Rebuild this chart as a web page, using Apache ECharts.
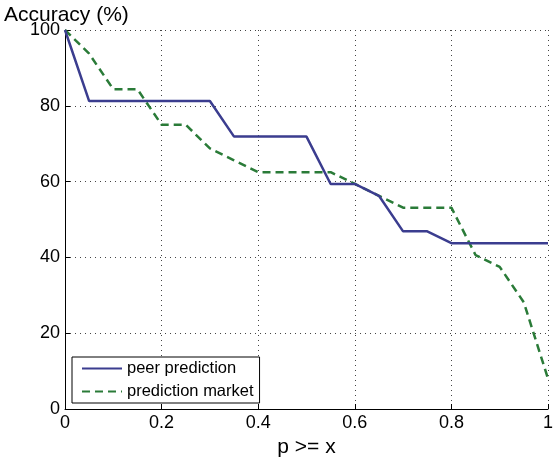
<!DOCTYPE html>
<html>
<head>
<meta charset="utf-8">
<script src="https://cdn.jsdelivr.net/npm/echarts@6/dist/echarts.min.js"></script>
<style>
html,body{margin:0;padding:0;background:#fff;}
#chart{width:555px;height:459px;}
</style>
</head>
<body>
<div id="chart"></div>
<script>
var xValues = [0,0.05,0.1,0.15,0.2,0.25,0.3,0.35,0.4,0.45,0.5,0.55,0.6,0.65,0.7,0.75,0.8,0.85,0.9,0.95,1];
var peerPrediction = [100,81.25,81.25,81.25,81.25,81.25,81.25,71.875,71.875,71.875,71.875,59.375,59.375,56.25,46.875,46.875,43.75,43.75,43.75,43.75,43.75];
var predictionMarket = [100,93.75,84.375,84.375,75,75,68.75,65.625,62.5,62.5,62.5,62.5,59.375,56.25,53.125,53.125,53.125,40.625,37.5,28.125,8];
var xTicks = [0,0.2,0.4,0.6,0.8,1];
var yTicks = [0,20,40,60,80,100];

function pairs(xs, ys){ return xs.map(function(x,i){ return [x, ys[i]]; }); }

var font = 'Liberation Sans, Arial, Helvetica, sans-serif';
var chart = echarts.init(document.getElementById('chart'), null, {renderer:'canvas'});
chart.setOption({
  animation:false,
  backgroundColor:'#fff',
  title:{text:'Accuracy (%)', left:-1, top:0, textStyle:{fontFamily:font, fontSize:21, fontWeight:'normal', color:'#000'}},
  grid:{left:65, right:7, top:30, bottom:50, containLabel:false, outerBoundsMode:'none'},
  legend:{
    orient:'vertical', left:72, top:357,
    backgroundColor:'#fff', borderColor:'#000', borderWidth:1,
    padding:[3,6,3,9], itemWidth:40, itemHeight:14, itemGap:6,
    itemStyle:{opacity:0},
    textStyle:{fontFamily:font, fontSize:16.5, color:'#000', padding:[0,0,0,0]},
    data:['peer prediction','prediction market']
  },
  xAxis:{
    type:'value', min:0, max:1, interval:0.2,
    name:'p >= x', nameLocation:'middle', nameGap:27,
    nameTextStyle:{fontFamily:font, fontSize:21, color:'#000'},
    axisLine:{show:true, lineStyle:{color:'#000', width:1}},
    axisTick:{show:true, inside:true, length:5, lineStyle:{color:'#000'}},
    axisLabel:{fontFamily:font, fontSize:18, color:'#000', margin:5,
      formatter:function(v){ return String(xTicks.filter(function(t){return Math.abs(t-v)<1e-9;})[0] !== undefined ? +v.toFixed(1) : ''); }},
    splitLine:{show:true, lineStyle:{type:[1,4], color:'#444', width:1}}
  },
  yAxis:{
    type:'value', min:0, max:100, interval:20,
    axisLine:{show:true, lineStyle:{color:'#000', width:1}},
    axisTick:{show:true, inside:true, length:5, lineStyle:{color:'#000'}},
    axisLabel:{fontFamily:font, fontSize:18, color:'#000', margin:5,
      formatter:function(v){ return yTicks.indexOf(v) >= 0 ? String(v) : ''; }},
    splitLine:{show:true, lineStyle:{type:[1,4], color:'#444', width:1}}
  },
  series:[
    {name:'peer prediction', type:'line', symbol:'none', data:pairs(xValues, peerPrediction),
     lineStyle:{color:'#3b3d8f', width:2.5}, itemStyle:{color:'#3b3d8f'}, z:3},
    {name:'prediction market', type:'line', symbol:'none', data:pairs(xValues, predictionMarket),
     lineStyle:{color:'#2a7b38', width:2.5, type:[8,5]}, itemStyle:{color:'#2a7b38'}, z:2}
  ]
});
</script>
</body>
</html>
